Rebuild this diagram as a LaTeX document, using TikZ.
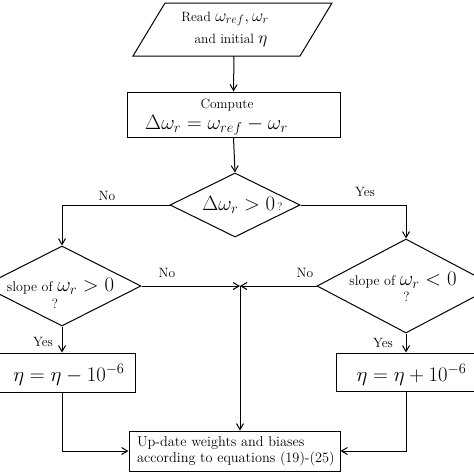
\documentclass[tikz,border=0pt]{standalone}
\usetikzlibrary{arrows.meta,shapes.geometric}
\begin{document}
\begin{tikzpicture}[x=1pt,y=-1pt,
  every node/.style={font=\fontsize{13.5}{16}\selectfont},
  arr/.style={-{Straight Barb[length=6pt,width=7pt]},line width=1pt},
  ln/.style={line width=1pt},
  box/.style={draw,line width=1pt,inner sep=0pt},
  dia/.style={draw,diamond,line width=1pt,inner sep=0pt},
  txt/.style={inner sep=0pt},
  big/.style={font=\fontsize{21}{24}\selectfont},
  upd/.style={font=\fontsize{14.3}{17}\selectfont}]
\useasboundingbox (0,0) rectangle (474,474);
% read parallelogram
\draw[ln] (165,3) -- (332,3) -- (300,56) -- (133,56) -- cycle;
\coordinate (readbot) at (234,56);
\node[txt,anchor=base] (read1) at (225,21) {Read {\fontsize{18.5}{20}\selectfont$\omega_{ref},\omega_r$}};
\node[txt,anchor=base] (read2) at (231,43) {and initial {\fontsize{18.5}{20}\selectfont$\eta$}};
% compute box
\node[box,minimum width=213pt,minimum height=45pt] (compute) at (233.5,114.5) {};
\node[txt,anchor=base] (comp1) at (227,108.5) {Compute};
\node[txt,anchor=base,big] (comp2) at (216.5,129) {$\Delta\omega_r=\omega_{ref}-\omega_r$};
% diamonds
\node[dia,minimum width=130pt,minimum height=64pt] (d1) at (235,205) {};
\node[txt,anchor=base] (d1t) at (242.5,210) {{\fontsize{19.5}{22}\selectfont$\Delta\omega_r>0$}\,{\fontsize{11}{13}\selectfont ?}};
\node[dia,minimum width=158pt,minimum height=80pt] (d2) at (62,286) {};
\node[txt,anchor=base] (d2t) at (60.5,291.5) {\fontsize{14}{16}\selectfont slope of {\fontsize{19.5}{22}\selectfont$\omega_r>0$}};
\node[txt,anchor=base] (d2q) at (55,308) {?};
\node[dia,minimum width=178pt,minimum height=94pt] (d3) at (406,286) {};
\node[txt,anchor=base] (d3t) at (403,285) {\fontsize{14}{16}\selectfont slope of {\fontsize{19.5}{22}\selectfont$\omega_r<0$}};
\node[txt,anchor=base] (d3q) at (406.5,301) {?};
% eta boxes
\node[box,minimum width=146pt,minimum height=39pt] (eta1) at (62,372.5) {};
\node[txt,anchor=base,big] (eta1t) at (69,381) {$\eta=\eta-10^{-6}$};
\node[box,minimum width=140pt,minimum height=38pt] (eta2) at (406,372) {};
\node[txt,anchor=base,big] (eta2t) at (411.5,381) {$\eta=\eta+10^{-6}$};
% update box
\node[box,minimum width=211pt,minimum height=40pt] (update) at (234.5,451) {};
\node[txt,anchor=base west,upd] (upd1) at (137,446.5) {Up-date weights and biases};
\node[txt,anchor=base west,upd] (upd2) at (137,462) {according to equations (19)-(25)};
\coordinate (meet) at (240,286);
% connectors
\draw[arr] (readbot) -- (compute.north);
\draw[arr] (compute.south) -- (d1.north);
\draw[arr] (d1.west) -| (d2.north);
\draw[arr] (d1.east) -| (d3.north);
\draw[arr] (d2.east) -- (meet);
\draw[arr] (d3.west) -- (meet);
\draw[arr] (meet) -- (meet |- update.north);
\draw[arr] (d2.south) -- (eta1.north);
\draw[arr] (d3.south) -- (eta2.north);
\draw[arr] (eta1.south) |- (update.west);
\draw[arr] (eta2.south) |- (update.east);
% labels
\node[txt] (l1) at (107,196) {No};
\node[txt] (l2) at (365,192) {Yes};
\node[txt] (l3) at (167,273) {No};
\node[txt] (l4) at (305,273) {No};
\node[txt] (l5) at (43,342) {Yes};
\node[txt] (l6) at (383,343) {Yes};
\end{tikzpicture}
\end{document}
